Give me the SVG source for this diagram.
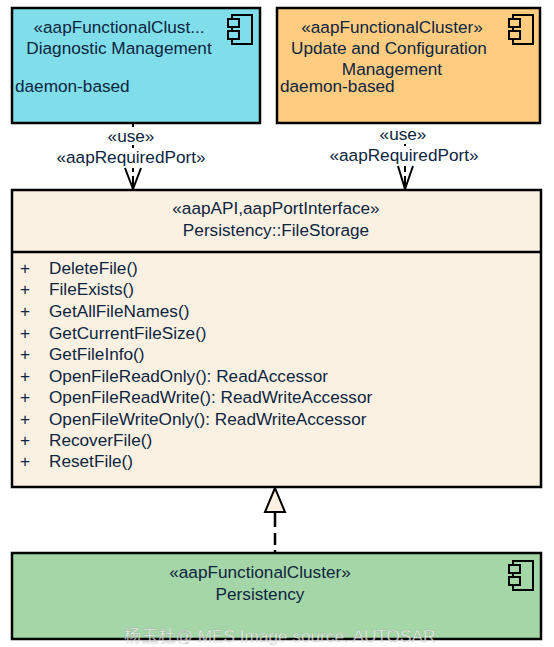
<svg xmlns="http://www.w3.org/2000/svg" width="554" height="647" viewBox="0 0 554 647">
<style>
text{font-family:"Liberation Sans",Arial,sans-serif;font-size:17.2px;fill:#0d2440}
.c{text-anchor:middle}
.box{stroke:#000;stroke-width:2.5}
.ic{stroke:#000;stroke-width:2}
.conn{fill:none;stroke:#000;stroke-width:2}
.real{fill:none;stroke:#000;stroke-width:2.5}
.wm{font-size:17.2px;fill:#fff;fill-opacity:.7;stroke:#888;stroke-width:.4;stroke-opacity:.6;font-family:"Liberation Sans","Noto Sans CJK SC",sans-serif}
</style>
<defs>
<g id="icon"><rect class="ic" x="4" y="0" width="20" height="29"/><rect class="ic" x="0" y="4" width="11" height="8"/><rect class="ic" x="0" y="16" width="11" height="8"/></g>
</defs>
<g id="connectors">
<path class="conn" d="M133 124V127M133 145V148M133 168V172M133 176V189"/>
<path class="conn" d="M125 168L133 189L141 168"/>
<path class="conn" d="M405 144V146M405 166V172M405 176V189"/>
<path class="conn" d="M398 166L405 189L413 166"/>
<path class="real" d="M275 512V527M275 533V545M275 550V553"/>
<path d="M275 488L265 512H285Z" fill="#fbf1e3" stroke="#000" stroke-width="2"/>
</g>
<g id="node-diagnostic">
<rect class="box" x="12" y="8" width="248" height="115" fill="#80deea"/>
<use href="#icon" x="228" y="15" fill="#80deea"/>
<text class="c" x="119" y="33">«aapFunctionalClust...</text>
<text class="c" x="119" y="54">Diagnostic Management</text>
<text x="15" y="92">daemon-based</text>
</g>
<g id="node-update">
<rect class="box" x="277" y="8" width="263" height="115" fill="#ffcc80"/>
<use href="#icon" x="509" y="15" fill="#ffcc80"/>
<text class="c" x="392" y="33">«aapFunctionalCluster»</text>
<text class="c" x="389" y="54">Update and Configuration</text>
<text class="c" x="392" y="75">Management</text>
<text x="280" y="92">daemon-based</text>
</g>
<g id="label-use-left">
<text class="c" x="131" y="142">«use»</text>
<text class="c" x="131" y="163">«aapRequiredPort»</text>
</g>
<g id="label-use-right">
<text class="c" x="403" y="140">«use»</text>
<text class="c" x="404" y="161">«aapRequiredPort»</text>
</g>
<g id="node-filestorage">
<rect class="box" x="12" y="190" width="529" height="297" fill="#fbf1e3"/>
<path d="M12 252H541" stroke="#000" stroke-width="2.500"/>
<text class="c" x="276" y="214">«aapAPI,aapPortInterface»</text>
<text class="c" x="276" y="236">Persistency::FileStorage</text>
<g>
<text x="20" y="274">+</text><text x="49" y="274">DeleteFile()</text>
<text x="20" y="295">+</text><text x="49" y="295">FileExists()</text>
<text x="20" y="317">+</text><text x="49" y="317">GetAllFileNames()</text>
<text x="20" y="339">+</text><text x="49" y="339">GetCurrentFileSize()</text>
<text x="20" y="360">+</text><text x="49" y="360">GetFileInfo()</text>
<text x="20" y="382">+</text><text x="49" y="382">OpenFileReadOnly(): ReadAccessor</text>
<text x="20" y="403">+</text><text x="49" y="403">OpenFileReadWrite(): ReadWriteAccessor</text>
<text x="20" y="425">+</text><text x="49" y="425">OpenFileWriteOnly(): ReadWriteAccessor</text>
<text x="20" y="446">+</text><text x="49" y="446">RecoverFile()</text>
<text x="20" y="467">+</text><text x="49" y="467">ResetFile()</text>
</g>
</g>
<g id="node-persistency">
<rect class="box" x="12" y="553" width="529" height="86" fill="#a5d6a7"/>
<use href="#icon" x="509" y="561" fill="#a5d6a7"/>
<text class="c" x="260" y="578">«aapFunctionalCluster»</text>
<text class="c" x="260" y="600">Persistency</text>
</g>
<text class="wm" x="124" y="642">杨玉杜@ MES Image source:  AUTOSAR</text>
</svg>
